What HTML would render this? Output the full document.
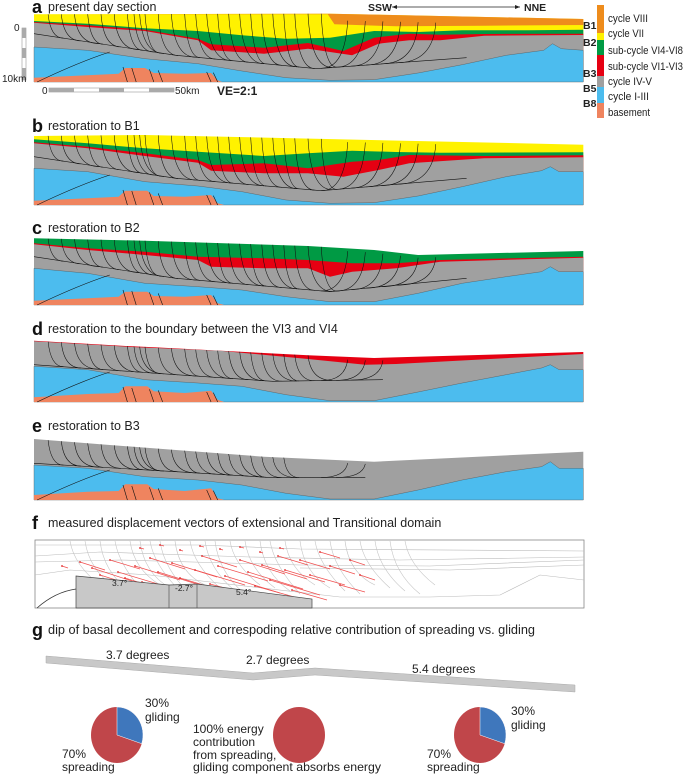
<!DOCTYPE html>
<html><head><meta charset="utf-8"><style>
body{margin:0;background:#fff}
svg{display:block}
text{font-family:"Liberation Sans Narrow","Liberation Sans",sans-serif;fill:#222}
.lab{font-family:"Liberation Sans",sans-serif;font-weight:bold;font-size:18px;fill:#111}
.ttl{font-size:12.5px}
.leg{font-size:11px}
.bl{font-family:"Liberation Sans",sans-serif;font-weight:bold;font-size:10.5px}
</style></head><body>
<svg id="fig" width="685" height="774" viewBox="0 0 685 774" xmlns="http://www.w3.org/2000/svg">
<g id="panels"></g>
<text class="lab" x="32" y="13">a</text>
<text class="ttl" x="48" y="11">present day section</text>
<text class="bl" x="368" y="11">SSW</text>
<line x1="392" y1="7" x2="520" y2="7" stroke="#222" stroke-width="0.8"/>
<path d="M392 7 l5 -2 v4z M520 7 l-5 -2 v4z" fill="#222"/>
<text class="bl" x="524" y="11">NNE</text>

<text class="lab" x="32" y="132">b</text>
<text class="ttl" x="48" y="130">restoration to B1</text>
<text class="lab" x="32" y="234">c</text>
<text class="ttl" x="48" y="232">restoration to B2</text>
<text class="lab" x="32" y="335">d</text>
<text class="ttl" x="48" y="333">restoration to the boundary between the VI3 and VI4</text>
<text class="lab" x="32" y="432">e</text>
<text class="ttl" x="48" y="430">restoration to B3</text>
<text class="lab" x="32" y="529">f</text>
<text class="ttl" x="48" y="527">measured displacement vectors of extensional and Transitional domain</text>
<text class="lab" x="32" y="636">g</text>
<text class="ttl" x="48" y="634" textLength="487" lengthAdjust="spacingAndGlyphs">dip of basal decollement and correspoding relative  contribution  of  spreading  vs. gliding</text>

<g>
<rect x="22" y="28" width="4" height="52" fill="#fff" stroke="#999" stroke-width="0.6"/>
<rect x="22" y="28" width="4" height="10" fill="#aaa"/><rect x="22" y="48" width="4" height="10" fill="#aaa"/><rect x="22" y="68" width="4" height="12" fill="#aaa"/>
<text x="14" y="31" font-size="10">0</text><text x="2" y="82" font-size="10">10km</text>
</g>
<g>
<text x="42" y="94" font-size="10">0</text>
<rect x="49" y="88" width="125" height="4" fill="#fff" stroke="#999" stroke-width="0.6"/>
<rect x="49" y="88" width="25" height="4" fill="#aaa"/><rect x="99" y="88" width="25" height="4" fill="#aaa"/><rect x="149" y="88" width="25" height="4" fill="#aaa"/>
<text x="175" y="94" font-size="10">50km</text>
<text class="bl" x="217" y="95" style="font-size:12px">VE=2:1</text>
</g>

<g>
<rect x="597" y="5" width="7" height="28" fill="#EE8C1C"/>
<rect x="597" y="33" width="7" height="7" fill="#FFF200"/>
<rect x="597" y="40" width="7" height="15" fill="#009A44"/>
<rect x="597" y="55" width="7" height="21" fill="#E60012"/>
<rect x="597" y="76" width="7" height="11" fill="#A0A0A0"/>
<rect x="597" y="87" width="7" height="16" fill="#4CBCEE"/>
<rect x="597" y="103" width="7" height="15" fill="#EF845F"/>
<text class="leg" x="608" y="22" textLength="40" lengthAdjust="spacingAndGlyphs">cycle VIII</text>
<text class="leg" x="608" y="37" textLength="36" lengthAdjust="spacingAndGlyphs">cycle VII</text>
<text class="leg" x="608" y="54" textLength="75" lengthAdjust="spacingAndGlyphs">sub-cycle VI4-VI8</text>
<text class="leg" x="608" y="70" textLength="75" lengthAdjust="spacingAndGlyphs">sub-cycle VI1-VI3</text>
<text class="leg" x="608" y="85" textLength="44" lengthAdjust="spacingAndGlyphs">cycle IV-V</text>
<text class="leg" x="608" y="100" textLength="41" lengthAdjust="spacingAndGlyphs">cycle I-III</text>
<text class="leg" x="608" y="116" textLength="42" lengthAdjust="spacingAndGlyphs">basement</text>
<text class="bl" x="583" y="29">B1</text>
<text class="bl" x="583" y="46">B2</text>
<text class="bl" x="583" y="77">B3</text>
<text class="bl" x="583" y="92">B5</text>
<text class="bl" x="583" y="107">B8</text>
</g>

<g id="pf">
<rect x="35" y="540" width="549" height="68" fill="#fff" stroke="#888" stroke-width="0.8"/>
</g>

<g>
<polygon points="46,656 253,673 315,668 575,685 575,692 315,675 253,680 46,663" fill="#C8C8C8" stroke="#aaa" stroke-width="0.5"/>
<text x="106" y="659" font-size="12">3.7 degrees</text>
<text x="246" y="664" font-size="12">2.7 degrees</text>
<text x="412" y="673" font-size="12">5.4 degrees</text>
<g id="pies"></g>
<text x="145" y="707" font-size="12">30%</text><text x="145" y="721" font-size="12">gliding</text>
<text x="62" y="758" font-size="12">70%</text><text x="62" y="771" font-size="12">spreading</text>
<text x="193" y="733" font-size="12">100% energy</text>
<text x="193" y="746" font-size="12">contribution</text>
<text x="193" y="759" font-size="12">from spreading,</text>
<text x="193" y="771" font-size="12" textLength="188" lengthAdjust="spacingAndGlyphs">gliding component absorbs energy</text>
<text x="511" y="715" font-size="12">30%</text><text x="511" y="729" font-size="12">gliding</text>
<text x="427" y="758" font-size="12">70%</text><text x="427" y="771" font-size="12">spreading</text>
</g>
</svg>
<script>
const NS="http://www.w3.org/2000/svg";
const C={orange:"#EE8C1C",yellow:"#FFF200",green:"#009A44",red:"#E60012",gray:"#A0A0A0",blue:"#4CBCEE",salmon:"#EF845F"};
const panels=[
 {id:"a",zb:245,bot:82,top:[[78,42],[750,40],[1325,56]],
  orange:[[78,42],[745,42],[760,72],[900,78],[1100,76],[1325,74]],
  layers:[["yellow",[[78,42],[750,40],[1325,56]]],
          ["green",[[78,62],[200,70],[330,84],[450,92],[550,105],[650,115],[750,112],[850,92],[950,95],[1050,90],[1200,90],[1325,88]]],
          ["red",[[78,65],[200,75],[330,88],[450,115],[480,132],[600,142],[700,128],[780,152],[850,112],[930,100],[1000,103],[1100,101],[1325,100]]],
          ["gray",[[78,67],[200,80],[330,92],[450,120],[480,150],[600,160],[700,145],[800,165],[860,130],[930,120],[1000,120],[1100,106],[1325,104]]]],
  grayBot:[[78,140],[200,150],[330,175],[450,190],[550,212],[650,232],[750,240],[850,238],[950,218],[1050,193],[1150,165],[1235,150],[1255,130],[1275,145],[1325,150]],
  salmon:[[78,232],[200,225],[270,220],[285,203],[330,203],[350,218],[420,220],[480,218],[495,240],[505,245],[78,245]],
  det:[[78,100],[400,165],[720,205],[1060,172]],fmax:1000},
 {id:"b",zb:255,bot:205,top:[[78,48],[330,45],[1325,74]],
  layers:[["yellow",[[78,48],[330,45],[1325,74]]],
          ["green",[[78,58],[200,70],[330,85],[450,95],[600,108],[700,100],[800,92],[900,96],[1000,98],[1325,97]]],
          ["red",[[78,67],[200,80],[330,100],[450,120],[480,135],[600,130],[700,145],[800,125],[860,120],[930,105],[1100,108],[1325,106]]],
          ["gray",[[78,70],[200,85],[330,108],[450,128],[480,152],[600,160],[700,160],[780,170],[860,150],[930,130],[1100,115],[1325,112]]]],
  grayBot:[[78,145],[200,155],[330,185],[450,198],[550,215],[650,240],[750,250],[850,248],[950,228],[1050,200],[1150,170],[1230,152],[1250,140],[1270,155],[1325,155]],
  salmon:[[78,242],[200,235],[270,230],[285,212],[335,212],[350,228],[420,230],[480,225],[495,250],[510,255],[78,255]],
  det:[[78,110],[400,175],[730,212],[1060,175]],fmax:1000},
 {id:"c",zb:555,bot:305,top:[[78,355],[330,362],[700,378],[850,390],[950,405],[1325,393]],
  layers:[["green",[[78,355],[330,362],[700,378],[850,390],[950,405],[1325,393]]],
          ["red",[[78,370],[200,385],[330,395],[450,410],[600,415],[700,420],[800,430],[900,430],[1000,420],[1325,410]]],
          ["gray",[[78,373],[200,390],[330,405],[450,420],[480,440],[600,445],[700,445],[750,470],[800,455],[900,445],[1000,425],[1325,413]]]],
  grayBot:[[78,445],[200,460],[330,490],[450,500],[550,510],[650,530],[750,545],[850,545],[950,520],[1050,490],[1150,470],[1230,455],[1250,440],[1270,455],[1325,455]],
  salmon:[[78,542],[200,535],[270,530],[285,515],[335,515],[350,528],[420,530],[480,525],[495,550],[510,555],[78,555]],
  det:[[78,410],[400,475],[750,515],[1060,475]],fmax:1000},
 {id:"d",zb:262,bot:402,top:[[78,78],[300,95],[350,98],[700,122],[850,130],[1325,112]],
  layers:[["red",[[78,78],[300,95],[350,98],[700,122],[850,130],[1325,112]]],
          ["gray",[[78,80],[300,97],[500,108],[700,133],[830,150],[900,148],[1325,118]]]],
  grayBot:[[78,155],[200,165],[330,195],[450,205],[550,215],[650,240],[750,258],[850,258],[950,232],[1050,205],[1150,180],[1230,160],[1250,150],[1270,165],[1325,165]],
  salmon:[[78,248],[200,238],[270,235],[285,215],[335,215],[350,230],[420,235],[480,228],[495,255],[510,262],[78,262]],
  det:[[78,150],[400,180],[620,200],[870,195]],fmax:900},
 {id:"e",zb:555,bot:500,top:[[78,372],[250,390],[400,405],[600,425],[850,440],[1325,410]],
  layers:[["gray",[[78,372],[250,390],[400,405],[600,425],[850,440],[1325,410]]]],
  grayBot:[[78,450],[200,460],[330,485],[450,495],[550,510],[650,535],[750,552],[850,552],[950,525],[1050,495],[1150,470],[1230,455],[1250,440],[1270,460],[1325,460]],
  salmon:[[78,540],[200,530],[270,528],[285,508],[335,508],[350,522],[420,528],[480,520],[495,550],[510,555],[78,555]],
  det:[[78,445],[400,470],[620,488],[830,487]],fmax:860}
];
const faultXs=[110,140,170,200,230,260,290,305,318,330,360,390,420,445,470,495,520,545,570,595,620,645,670,700,730];
const rightFaultXs=[790,830,870,910,950,990];
function interp(pts,x){for(let i=0;i<pts.length-1;i++){if(x>=pts[i][0]&&x<=pts[i+1][0]){const t=(x-pts[i][0])/(pts[i+1][0]-pts[i][0]);return pts[i][1]+t*(pts[i+1][1]-pts[i][1]);}}return x<pts[0][0]?pts[0][1]:pts[pts.length-1][1];}
const root=document.getElementById("panels");
panels.forEach(p=>{
  const X=zx=>34+(zx-78)/2.27, Y=zy=>p.bot-(p.zb-zy)/3;
  const g=document.createElementNS(NS,"g");
  
  
  root.appendChild(g);
  const add=(tag,attrs)=>{const e=document.createElementNS(NS,tag);for(const k in attrs)e.setAttribute(k,attrs[k]);g.appendChild(e);return e;};
  const pts=a=>a.map(q=>X(q[0]).toFixed(1)+","+Y(q[1]).toFixed(1)).join(" ");
  const bottomPoly=a=>pts(a)+" "+X(1325)+","+p.bot+" "+X(78)+","+p.bot;
  p.layers.forEach(L=>{
    const e=add("polygon",{points:bottomPoly(L[1]),fill:C[L[0]]});
    
  });
  if(p.orange){
    const e=add("polygon",{points:pts(p.top)+" "+pts(p.orange.slice().reverse()),fill:C.orange});
    
  }
  const bl=add("polygon",{points:bottomPoly(p.grayBot),fill:C.blue,stroke:"#555","stroke-width":"0.4"});
  
  const sa=add("polygon",{points:pts(p.salmon),fill:C.salmon});
  
  faultXs.forEach((fx,i)=>{
    if(fx>p.fmax-200)return;
    const ty=interp(p.top,fx);
    const ex=fx+35+(i%3)*10, ey=interp(p.det,ex);
    const f=add("path",{d:`M${X(fx).toFixed(1)},${Y(ty).toFixed(1)} Q${X(fx+6).toFixed(1)},${Y(ey).toFixed(1)} ${X(ex).toFixed(1)},${Y(ey).toFixed(1)}`,fill:"none",stroke:"#111","stroke-width":"0.55"});
    
  });
  rightFaultXs.forEach((fx,i)=>{
    if(fx>p.fmax)return;
    const ty=interp(p.top,fx)+(p.id==="a"?20:8);
    const ex=fx-60-i*6, ey=interp(p.det,ex);
    const f=add("path",{d:`M${X(fx).toFixed(1)},${Y(ty).toFixed(1)} Q${X(fx-6).toFixed(1)},${Y(ey).toFixed(1)} ${X(ex).toFixed(1)},${Y(ey).toFixed(1)}`,fill:"none",stroke:"#111","stroke-width":"0.55"});
    
  });
  const det=add("polyline",{points:pts(p.det),fill:"none",stroke:"#111","stroke-width":"0.6"});
  
  const dl=add("path",{d:`M${X(85)},${p.bot} Q${X(180)},${Y(p.zb-60)} ${X(250)},${Y(p.zb-90)}`,fill:"none",stroke:"#111","stroke-width":"0.6"});
  
  [[280,-45],[300,-42],[340,-38],[360,-35],[470,-30],[485,-28]].forEach(b=>{
    const e=add("line",{x1:X(b[0]),y1:Y(p.zb+b[1]),x2:X(b[0]+10),y2:p.bot,stroke:"#111","stroke-width":"0.6"});
    
  });
});

// Panel f
const pf=document.getElementById("pf");
const fLines=[[[35,545],[200,545],[300,549],[584,551]],[[35,556],[100,552],[250,557],[400,560],[584,557]],[[35,562],[120,560],[300,565],[430,566],[584,560]],[[300,568],[450,570],[584,565]],[[35,575],[70,570],[150,575],[340,597],[430,597],[500,595],[540,575],[584,580]]];
fLines.forEach(L=>{const e=document.createElementNS(NS,"polyline");e.setAttribute("points",L.map(q=>q.join(",")).join(" "));e.setAttribute("fill","none");e.setAttribute("stroke","#bbb");e.setAttribute("stroke-width","0.6");


pf.appendChild(e);});
const fFaultX=[70,85,100,115,130,140,150,160,175,190,205,215,230,245,260,270,285,300,315,330,345,360,375,390,405];
fFaultX.forEach((x,i)=>{const e=document.createElementNS(NS,"path");e.setAttribute("d",`M${x},541 Q${x+4},${565+i%3*4} ${x+30},${585+(i%4)*3}`);e.setAttribute("fill","none");e.setAttribute("stroke","#c4c4c4");e.setAttribute("stroke-width","0.6");


pf.appendChild(e);});
const vecX=[62,80,92,100,110,118,125,135,142,150,158,165,172,180,188,195,202,210,218,225,232,240,248,255,262,270,278,285,292,300,310,320,330,340,350,360,140,160,180,200,220,240,260,280];
const vecY=[566,562,568,575,560,572,578,566,582,558,572,586,563,578,590,570,556,584,566,576,592,560,572,586,565,580,556,570,590,560,575,552,566,585,560,575,548,545,550,546,549,547,552,548];
const vecDX=[6,25,40,45,30,50,55,45,55,35,55,55,45,60,55,50,35,60,50,55,50,45,55,50,45,50,30,40,35,30,35,20,25,25,15,15,4,4,3,4,3,4,3,4];
const vecDY=[2,8,13,14,9,15,17,14,17,11,17,17,14,18,13,15,11,16,15,17,12,14,17,14,14,15,9,12,10,9,10,6,8,7,5,5,1,1,1,1,1,1,1,1];
vecX.forEach((x,i)=>{const e=document.createElementNS(NS,"line");e.setAttribute("x1",x);e.setAttribute("y1",vecY[i]);e.setAttribute("x2",x+vecDX[i]);e.setAttribute("y2",vecY[i]+vecDY[i]);e.setAttribute("stroke","#F05050");e.setAttribute("stroke-width","0.7");


pf.appendChild(e);
const d=document.createElementNS(NS,"circle");d.setAttribute("cx",x);d.setAttribute("cy",vecY[i]);d.setAttribute("r","0.9");d.setAttribute("fill","#E02020");


pf.appendChild(d);});
pf.insertAdjacentHTML("beforeend",`<polygon points="76,576 169,585 197,584 312,599 312,608 76,608" fill="#C8C8C8" stroke="#444" stroke-width="0.7"/>
<line x1="169" y1="585" x2="169" y2="608" stroke="#555" stroke-width="0.7"/><line x1="197" y1="584" x2="197" y2="608" stroke="#555" stroke-width="0.7"/>
<path d="M37,608 Q55,592 76,589" fill="none" stroke="#333" stroke-width="0.8"/>
<text x="112" y="586" font-size="8.5">3.7°</text>
<text x="175" y="591" font-size="8.5">-2.7°</text>
<text x="236" y="595" font-size="8.5">5.4°</text>`);

const pieCX=[117,299,480];
const pieGliding=[30,0,30];
const pieG=document.getElementById("pies");
pieCX.forEach((cx,i)=>{
  const cy=735, rx=26, ry=28;
  const sp=document.createElementNS(NS,"ellipse");
  sp.setAttribute("cx",cx);sp.setAttribute("cy",cy);sp.setAttribute("rx",rx);sp.setAttribute("ry",ry);sp.setAttribute("fill","#C0464A");
  
  
  pieG.appendChild(sp);
  const frac=pieGliding[i]/100;
  if(frac>0){
    const a=frac*2*Math.PI;
    const ex=cx+rx*Math.sin(a), ey=cy-ry*Math.cos(a);
    const sl=document.createElementNS(NS,"path");
    sl.setAttribute("d",`M${cx},${cy} L${cx},${cy-ry} A${rx},${ry} 0 ${frac>0.5?1:0} 1 ${ex.toFixed(1)},${ey.toFixed(1)} Z`);
    sl.setAttribute("fill","#3F77BC");sl.setAttribute("stroke","#fff");sl.setAttribute("stroke-width","0.5");
    
    
    pieG.appendChild(sl);
  }
});
</script>
</body></html>
